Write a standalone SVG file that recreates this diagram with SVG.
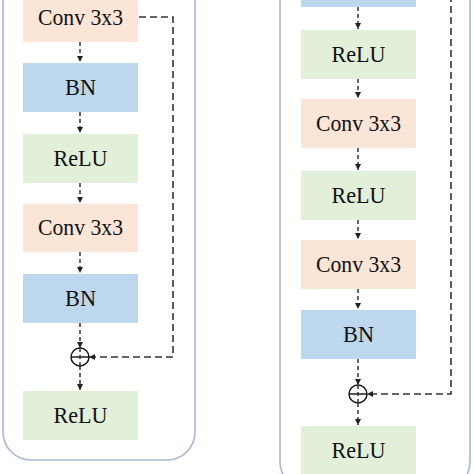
<svg xmlns="http://www.w3.org/2000/svg" width="474" height="474" viewBox="0 0 474 474">
<defs>
<marker id="ah" viewBox="0 0 6 6" refX="6" refY="3" markerWidth="6" markerHeight="6" markerUnits="userSpaceOnUse" orient="auto">
<path d="M0,0 L6,3 L0,6 z" fill="#222"/>
</marker>
<style>
.panel{fill:#fff;stroke:#A9B6D6;stroke-width:1.6}
.conv{fill:#FBE5D6}
.bn{fill:#BDD7EE}
.relu{fill:#E2F0D9}
.t{font-family:"Liberation Serif","Times New Roman",serif;font-size:23px;fill:#111;text-anchor:middle;dominant-baseline:central}
.c{fill:none;stroke:#333;stroke-width:1.6;stroke-dasharray:7 4}
.v{fill:none;stroke:#333;stroke-width:1.5;stroke-dasharray:4 3}
.plus{fill:none;stroke:#111;stroke-width:1.4}
</style>
</defs>
<rect class="panel" x="3" y="-40" width="192" height="500" rx="28"/>
<rect class="panel" x="280" y="-40" width="190" height="530" rx="28"/>
<g id="l-conv1"><rect class="conv" x="23" y="-6" width="115" height="48"/><text class="t" x="80.5" y="17" textLength="85" lengthAdjust="spacingAndGlyphs">Conv 3x3</text></g>
<g id="l-bn1"><rect class="bn" x="23" y="63" width="115" height="49"/><text class="t" x="80.5" y="87" textLength="31" lengthAdjust="spacingAndGlyphs">BN</text></g>
<g id="l-relu1"><rect class="relu" x="23" y="134" width="115" height="49"/><text class="t" x="80.5" y="158" textLength="54" lengthAdjust="spacingAndGlyphs">ReLU</text></g>
<g id="l-conv2"><rect class="conv" x="23" y="204" width="115" height="48"/><text class="t" x="80.5" y="227.5" textLength="85" lengthAdjust="spacingAndGlyphs">Conv 3x3</text></g>
<g id="l-bn2"><rect class="bn" x="23" y="274" width="115" height="49"/><text class="t" x="80.5" y="298" textLength="31" lengthAdjust="spacingAndGlyphs">BN</text></g>
<g id="l-add"><circle class="plus" cx="80" cy="357" r="9"/><line class="plus" x1="71" y1="357" x2="89" y2="357"/></g>
<g id="l-relu2"><rect class="relu" x="23" y="391" width="115" height="49"/><text class="t" x="80.5" y="415" textLength="54" lengthAdjust="spacingAndGlyphs">ReLU</text></g>
<g id="r-bn0"><rect class="bn" x="301" y="-42" width="115" height="49"/></g>
<g id="r-relu1"><rect class="relu" x="301" y="30" width="115" height="49"/><text class="t" x="358.5" y="54" textLength="54" lengthAdjust="spacingAndGlyphs">ReLU</text></g>
<g id="r-conv1"><rect class="conv" x="301" y="99" width="115" height="49"/><text class="t" x="358.5" y="123" textLength="85" lengthAdjust="spacingAndGlyphs">Conv 3x3</text></g>
<g id="r-relu2"><rect class="relu" x="301" y="171" width="115" height="49"/><text class="t" x="358.5" y="195" textLength="54" lengthAdjust="spacingAndGlyphs">ReLU</text></g>
<g id="r-conv2"><rect class="conv" x="301" y="240" width="115" height="49"/><text class="t" x="358.5" y="264" textLength="85" lengthAdjust="spacingAndGlyphs">Conv 3x3</text></g>
<g id="r-bn2"><rect class="bn" x="301" y="310" width="115" height="49"/><text class="t" x="358.5" y="334" textLength="31" lengthAdjust="spacingAndGlyphs">BN</text></g>
<g id="r-add"><circle class="plus" cx="358" cy="394" r="9"/><line class="plus" x1="349" y1="394" x2="367" y2="394"/></g>
<g id="r-relu3"><rect class="relu" x="301" y="426" width="115" height="50"/><text class="t" x="358.5" y="450.5" textLength="54" lengthAdjust="spacingAndGlyphs">ReLU</text></g>
<g id="connectors">
<line class="v" x1="80" y1="42" x2="80" y2="62" marker-end="url(#ah)"/>
<line class="v" x1="80" y1="112" x2="80" y2="133" marker-end="url(#ah)"/>
<line class="v" x1="80" y1="183" x2="80" y2="203" marker-end="url(#ah)"/>
<line class="v" x1="80" y1="252" x2="80" y2="273" marker-end="url(#ah)"/>
<line class="v" x1="80" y1="323" x2="80" y2="348" marker-end="url(#ah)"/>
<line class="v" x1="80" y1="348" x2="80" y2="366"/>
<line class="v" x1="80" y1="366" x2="80" y2="390" marker-end="url(#ah)"/>
<polyline class="c" points="139,17 173,17 173,357 89,357" marker-end="url(#ah)"/>
<line class="v" x1="358" y1="7" x2="358" y2="29" marker-end="url(#ah)"/>
<line class="v" x1="358" y1="79" x2="358" y2="98" marker-end="url(#ah)"/>
<line class="v" x1="358" y1="148" x2="358" y2="170" marker-end="url(#ah)"/>
<line class="v" x1="358" y1="220" x2="358" y2="239" marker-end="url(#ah)"/>
<line class="v" x1="358" y1="289" x2="358" y2="309" marker-end="url(#ah)"/>
<line class="v" x1="358" y1="359" x2="358" y2="385" marker-end="url(#ah)"/>
<line class="v" x1="358" y1="385" x2="358" y2="403"/>
<line class="v" x1="358" y1="403" x2="358" y2="425" marker-end="url(#ah)"/>
<polyline class="c" points="451,-5 451,394 367,394" marker-end="url(#ah)"/>
</g>
</svg>
